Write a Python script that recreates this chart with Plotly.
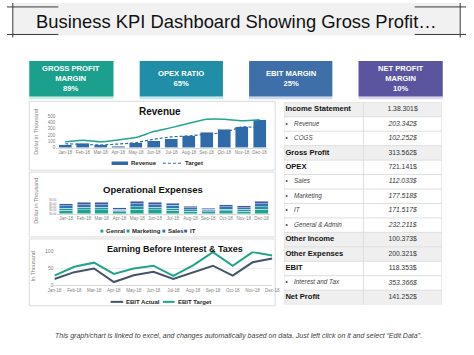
import plotly.graph_objects as go

W, H = 474, 355
FONT = "Liberation Sans, Arial, sans-serif"

# ---------------- data ----------------
months = ["Jan-18", "Feb-18", "Mar-18", "Apr-18", "May-18", "Jun-18",
          "Jul-18", "Aug-18", "Sep-18", "Oct-18", "Nov-18", "Dec-18"]

revenue = [43, 69, 47, 18, 74, 110, 137, 190, 242, 289, 332, 442]
revenue_target = [60, 50, 40, 55, 75, 132, 169, 185, 206, 237, 332, 316]
revenue_trend = [90, 116, 90, 121, 158, 253, 316, 385, 448, 448, 427, 442]

opex_general = [10, 12, 12, 6, 13, 12, 11, 8, 6, 9, 8, 13]
opex_marketing = [6, 7, 7, 4, 7, 7, 6, 4, 3, 5, 5, 8]
opex_sales = [8, 8, 8, 4, 9, 8, 8, 6, 4, 7, 5, 9]
opex_it = [6, 7, 7, 4, 8, 7, 6, 4, 3, 5, 5, 7]

ebit_actual = [19, 39, 50, 10, 30, 40, 19, 38, 58, 29, 68, 79]
ebit_target = [29, 55, 67, 34, 50, 58, 28, 59, 98, 58, 98, 88]

kpi_labels = ["GROSS PROFIT<br>MARGIN", "OPEX RATIO", "EBIT MARGIN", "NET PROFIT<br>MARGIN"]
kpi_values = ["89%", "65%", "25%", "10%"]
kpi_colors = ["#1aa08c", "#218ea8", "#3e6fa9", "#5b55a0"]

table_labels = ["Income Statement", "Revenue", "COGS", "Gross Profit", "OPEX", "Sales",
                "Marketing", "IT", "General & Admin", "Other Income", "Other Expenses",
                "EBIT", "Interest and Tax", "Net Profit"]
table_values = ["1.38.301$", "203.342$", "102.252$", "313.562$", "721.141$", "112.033$",
                "177.518$", "171.517$", "232.211$", "100.373$", "200.321$", "118.353$",
                "353.366$", "141.252$"]
table_is_sub = [False, True, True, False, False, True, True, True, True, False, False,
                False, True, False]
table_shaded = [True, False, False, True, False, False, False, False, False, True, True,
                False, False, True]

footer = ("This graph/chart is linked to excel, and changes automatically based on data. "
          "Just left click on it and select \u201cEdit Data\u201d.")


def px(x):
    return x / W


def py(y):
    return 1 - y / H


fig = go.Figure()

# ---------------- Revenue ----------------
fig.add_trace(go.Bar(x=months, y=revenue, marker_color="#2f6aa9", width=0.74,
                     name="Revenue", xaxis="x", yaxis="y"))
fig.add_trace(go.Scatter(x=months, y=revenue_trend, mode="lines", name="Trend",
                         line=dict(color="#22a48e", width=1.5, shape="spline", smoothing=0.6),
                         xaxis="x", yaxis="y"))
fig.add_trace(go.Scatter(x=months, y=revenue_target, mode="lines", name="Target",
                         line=dict(color="#2f6aa9", width=1.2, dash="3px,2px"),
                         xaxis="x", yaxis="y"))

# ---------------- Opex ----------------
opex_series = [("Genral", opex_general, "#1da58a"), ("Marketing", opex_marketing, "#2393a0"),
               ("Sales", opex_sales, "#2e78b0"), ("IT", opex_it, "#4456a8")]
for name, vals, col in opex_series:
    fig.add_trace(go.Bar(x=months, y=vals, marker_color=col, width=0.76, name=name,
                         xaxis="x2", yaxis="y2"))

# ---------------- EBIT ----------------
fig.add_trace(go.Scatter(x=months, y=ebit_actual, mode="lines", name="EBIT Actual",
                         line=dict(color="#44546a", width=2), xaxis="x3", yaxis="y3"))
fig.add_trace(go.Scatter(x=months, y=ebit_target, mode="lines", name="EBIT Target",
                         line=dict(color="#21a38e", width=2), xaxis="x3", yaxis="y3"))

# ---------------- Table (text through axis x4/y4, px-based x range) ----------------
TW = 163
COL2 = 82
rows = list(range(len(table_labels)))
row_c = [r + 0.5 for r in rows]
main_idx = [i for i in rows if not table_is_sub[i]]
sub_idx = [i for i in rows if table_is_sub[i]]

fig.add_trace(go.Scatter(
    x=[1.5] * len(main_idx), y=[row_c[i] for i in main_idx],
    text=["<b>" + table_labels[i] + "</b>" for i in main_idx],
    mode="text", textposition="middle right",
    textfont=dict(family=FONT, size=7.6, color="#111111"),
    hoverinfo="skip", xaxis="x4", yaxis="y4"))
fig.add_trace(go.Scatter(
    x=[1.5] * len(sub_idx), y=[row_c[i] for i in sub_idx],
    text=["\u2022" for i in sub_idx],
    mode="text", textposition="middle right",
    textfont=dict(family=FONT, size=6.3, color="#444444"),
    hoverinfo="skip", xaxis="x4", yaxis="y4"))
fig.add_trace(go.Scatter(
    x=[10.5] * len(sub_idx), y=[row_c[i] for i in sub_idx],
    text=["<i>" + table_labels[i] + "</i>" for i in sub_idx],
    mode="text", textposition="middle right",
    textfont=dict(family=FONT, size=6.3, color="#444444"),
    hoverinfo="skip", xaxis="x4", yaxis="y4"))
fig.add_trace(go.Scatter(
    x=[(COL2 + TW) / 2] * len(rows), y=row_c,
    text=["<i>" + table_values[i] + "</i>" if table_is_sub[i] else table_values[i] for i in rows],
    mode="text", textposition="middle center",
    textfont=dict(family=FONT, size=6.8, color="#333333"),
    hoverinfo="skip", xaxis="x4", yaxis="y4"))

# ---------------- shapes ----------------
shapes = []
shapes.append(dict(type="rect", xref="paper", yref="paper", x0=px(6), x1=px(468), y0=py(33), y1=py(0),
                   fillcolor="#f1f1f1", line=dict(width=0), layer="below"))
for (xa, xb, xv) in [(0, 53, 6), (421, 474, 468)]:
    for yy in (4, 32):
        shapes.append(dict(type="line", xref="paper", yref="paper", x0=px(xa), x1=px(xb),
                           y0=py(yy), y1=py(yy), line=dict(color="#3a3a3a", width=1)))
    shapes.append(dict(type="line", xref="paper", yref="paper", x0=px(xv), x1=px(xv),
                       y0=py(0), y1=py(35), line=dict(color="#3a3a3a", width=1)))

kpi_x = [(23, 110), (137, 223), (250, 336), (363, 450)]
shadow_colors = ["#c4efe8", "#c4e8f0", "#ccdaee", "#dad7ef"]
for (x0, x1), col, sc in zip(kpi_x, kpi_colors, shadow_colors):
    shapes.append(dict(type="rect", xref="paper", yref="paper", x0=px(x0), x1=px(x1),
                       y0=py(98), y1=py(95), fillcolor=sc, line=dict(width=0), layer="below"))
    shapes.append(dict(type="rect", xref="paper", yref="paper", x0=px(x0), x1=px(x1),
                       y0=py(95), y1=py(59), fillcolor=col, line=dict(width=0), layer="below"))

for (y0, y1) in [(100, 170), (172, 238), (240, 308)]:
    shapes.append(dict(type="rect", xref="paper", yref="paper", x0=px(23), x1=px(277),
                       y0=py(y1), y1=py(y0), fillcolor="#ffffff",
                       line=dict(color="#dadada", width=1), layer="below"))

for r in rows:
    shapes.append(dict(type="rect", xref="x4", yref="y4", x0=0, x1=TW, y0=r, y1=r + 1,
                       fillcolor="#efefef" if table_shaded[r] else "#ffffff",
                       line=dict(width=0), layer="below"))
for r in range(len(rows) + 1):
    shapes.append(dict(type="line", xref="x4", yref="y4", x0=0, x1=TW, y0=r, y1=r,
                       line=dict(color="#dedede", width=1), layer="below"))
for xv in (0, COL2, TW):
    shapes.append(dict(type="line", xref="x4", yref="y4", x0=xv, x1=xv, y0=0, y1=len(rows),
                       line=dict(color="#dedede", width=1), layer="below"))

# custom compact legends
ann = []
LEG = dict(family=FONT, size=6, color="#262626", weight="bold")


def leg_text(txt, x, y):
    ann.append(dict(text=txt, x=px(x), y=py(y), xref="paper", yref="paper", showarrow=False,
                    xanchor="left", yanchor="middle", font=LEG))


shapes.append(dict(type="line", xref="paper", yref="paper", x0=px(108), x1=px(125),
                   y0=py(163), y1=py(163), line=dict(color="#2f6aa9", width=3.5)))
leg_text("Revenue", 126.5, 163)
shapes.append(dict(type="line", xref="paper", yref="paper", x0=px(161), x1=px(180),
                   y0=py(163), y1=py(163), line=dict(color="#2f6aa9", width=1.2, dash="3px,2px")))
leg_text("Target", 181.5, 163)
for (name, vals, col), sx in zip(opex_series, [96.5, 123.5, 160.5, 183]):
    shapes.append(dict(type="rect", xref="paper", yref="paper", x0=px(sx), x1=px(sx + 3),
                       y0=py(233.5), y1=py(230.5), fillcolor=col, line=dict(width=0)))
    leg_text(name, sx + 3.5, 232)
shapes.append(dict(type="line", xref="paper", yref="paper", x0=px(107), x1=px(120),
                   y0=py(304), y1=py(304), line=dict(color="#44546a", width=2)))
leg_text("EBIT Actual", 121, 304)
shapes.append(dict(type="line", xref="paper", yref="paper", x0=px(161), x1=px(173),
                   y0=py(304), y1=py(304), line=dict(color="#21a38e", width=2)))
leg_text("EBIT Target", 174.5, 304)

# ---------------- annotations ----------------
ann.append(dict(text="Business KPI Dashboard Showing Gross Profit\u2026", x=px(237), y=py(18.5),
                xref="paper", yref="paper", showarrow=False, xanchor="center", yanchor="middle",
                font=dict(family=FONT, size=18.4, color="#111111")))
for (x0, x1), lab, val in zip(kpi_x, kpi_labels, kpi_values):
    ann.append(dict(text="<b>" + lab + "<br>" + val + "</b>", x=px((x0 + x1) / 2), y=py(77),
                    xref="paper", yref="paper", showarrow=False, xanchor="center", yanchor="middle",
                    align="center", font=dict(family=FONT, size=7.6, color="#ffffff")))
for txt, xc, yc, sz in [("Revenue", 158, 110, 10), ("Operational Expenses", 151, 190, 9.5),
                        ("Earning Before Interest & Taxes", 173, 250, 9)]:
    ann.append(dict(text="<b>" + txt + "</b>", x=px(xc), y=py(yc), xref="paper", yref="paper",
                    showarrow=False, xanchor="center", yanchor="middle",
                    font=dict(family=FONT, size=sz, color="#111111")))
for txt, xc, yc in [("Dollar in Thousand", 30, 131), ("Dollar in Thousand", 30, 201),
                    ("In Thousand", 27, 268)]:
    ann.append(dict(text=txt, x=px(xc), y=py(yc), xref="paper", yref="paper", showarrow=False,
                    textangle=-90, xanchor="center", yanchor="middle",
                    font=dict(family=FONT, size=5.5, color="#7f7f7f")))
ann.append(dict(text="<i>" + footer + "</i>", x=px(239), y=py(339), xref="paper", yref="paper",
                showarrow=False, xanchor="center", yanchor="middle",
                font=dict(family=FONT, size=7, color="#404040")))

tickfont = dict(family=FONT, size=4.5, color="#7f7f7f")

fig.update_layout(
    width=W, height=H, autosize=False,
    margin=dict(l=0, r=0, t=0, b=0),
    paper_bgcolor="#ffffff", plot_bgcolor="rgba(0,0,0,0)",
    barmode="stack", showlegend=False,
    shapes=shapes, annotations=ann,
    xaxis=dict(domain=[px(51), px(270)], anchor="y", tickfont=tickfont, ticks="", tickangle=0,
               showline=True, linecolor="#d9d9d9", linewidth=1, showgrid=False, fixedrange=True),
    yaxis=dict(domain=[py(147), py(115)], anchor="x", range=[0, 500], dtick=100,
               tickfont=dict(family=FONT, size=4.5, color="#7f7f7f"), showgrid=False,
               zeroline=False, ticks="", fixedrange=True),
    xaxis2=dict(domain=[px(52), px(272)], anchor="y2", tickfont=tickfont, ticks="", tickangle=0,
                showline=True, linecolor="#d9d9d9", linewidth=1, showgrid=False),
    yaxis2=dict(domain=[py(214.5), py(200.5)], anchor="x2", range=[0, 40],
                tickvals=[0, 10, 20, 30, 40],
                ticktext=["$0.00", "$0.00", "$0.00", "$0.00", "$0.00"],
                tickfont=dict(family=FONT, size=2.8, color="#7f7f7f"), showgrid=False,
                zeroline=False, ticks=""),
    xaxis3=dict(domain=[px(49), px(274)], anchor="y3", tickfont=tickfont, ticks="", tickangle=0,
                showline=True, linecolor="#d9d9d9", linewidth=1, showgrid=False),
    yaxis3=dict(domain=[py(287.3), py(252.7)], anchor="x3", range=[0, 100], dtick=50,
                tickfont=dict(family=FONT, size=5, color="#7f7f7f"), showgrid=True,
                gridcolor="#eeeeee", zeroline=False, ticks=""),
    xaxis4=dict(domain=[px(286), px(449)], anchor="y4", range=[0, TW], visible=False,
                fixedrange=True),
    yaxis4=dict(domain=[py(101 + 14 * 14.7), py(101)], anchor="x4", range=[len(table_labels), 0],
                visible=False, fixedrange=True),
)

PAGE_FIX = (
    "var s=[document.documentElement, document.body];"
    "s.forEach(function(e){e.style.margin='0';e.style.padding='0';e.style.width='474px';"
    "e.style.height='355px';e.style.overflow='hidden';});"
)

fig.write_html("out.html",
               config={"displayModeBar": False, "staticPlot": True},
               post_script=PAGE_FIX)
